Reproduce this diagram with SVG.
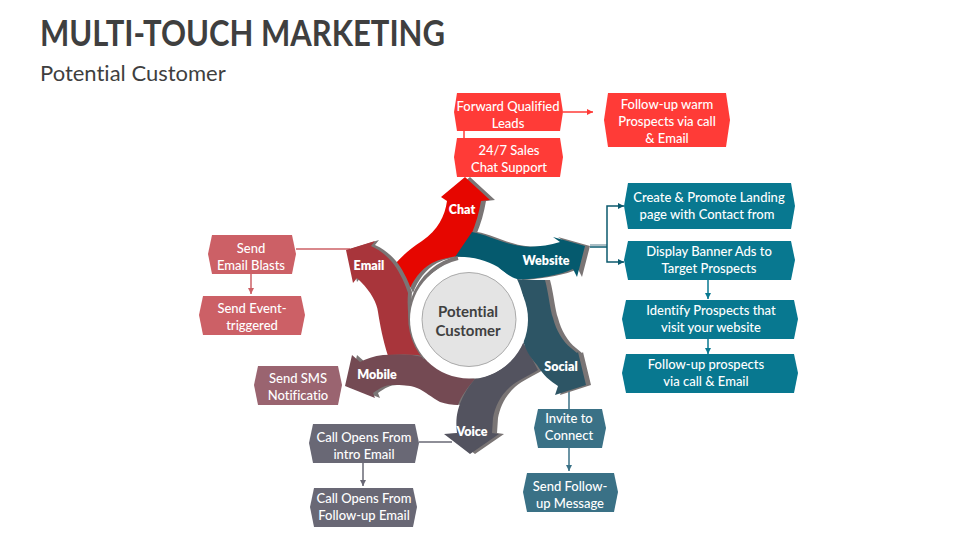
<svg xmlns="http://www.w3.org/2000/svg" xmlns:xlink="http://www.w3.org/1999/xlink" width="960" height="540" viewBox="0 0 960 540">
<style>
text{font-family:"Lato","Open Sans",sans-serif;font-variant-ligatures:none}
.t{font-size:36px;font-weight:700;fill:#3f3f3f}
.s{font-size:22px;fill:#3f3f3f}
.b{font-size:13px;fill:#fff;text-anchor:middle;font-weight:500}
.a{font-size:12.5px;fill:#fff;text-anchor:middle;font-weight:800}
.c{font-size:15px;fill:#404040;text-anchor:middle;font-weight:700}
.sh{fill:#7a7575}
.red{fill:#ff3b37}.teal{fill:#087890}.rose{fill:#cc6066}.mauve{fill:#9a6470}.slate{fill:#696875}.blue{fill:#3a7186}
.l{fill:none;stroke-width:1.5}
</style>
<defs>
<marker id="mr" markerUnits="userSpaceOnUse" markerWidth="7" markerHeight="7" refX="6" refY="3" orient="auto"><path d="M0 0L6 3L0 6z" fill="#ff3b37"/></marker>
<marker id="mt" markerUnits="userSpaceOnUse" markerWidth="7" markerHeight="7" refX="6" refY="3" orient="auto"><path d="M0 0L6 3L0 6z" fill="#087890"/></marker>
<marker id="md" markerUnits="userSpaceOnUse" markerWidth="7" markerHeight="7" refX="6" refY="3" orient="auto"><path d="M0 0L6 3L0 6z" fill="#0b5a6e"/></marker>
<marker id="mo" markerUnits="userSpaceOnUse" markerWidth="7" markerHeight="7" refX="6" refY="3" orient="auto"><path d="M0 0L6 3L0 6z" fill="#cc6066"/></marker>
<marker id="ms" markerUnits="userSpaceOnUse" markerWidth="7" markerHeight="7" refX="6" refY="3" orient="auto"><path d="M0 0L6 3L0 6z" fill="#696875"/></marker>
<marker id="mb" markerUnits="userSpaceOnUse" markerWidth="7" markerHeight="7" refX="6" refY="3" orient="auto"><path d="M0 0L6 3L0 6z" fill="#3a7186"/></marker>
<path id="pEmail" d="M375 241L346 250L353 283L357 278L361 282C371 292 377 303 378 312C380 325 383 340 388 356L424 356C412 340 406 318 408 293C404 280 397 268 392 262C387 256 380 250 371 246z"/>
<path id="pChat" d="M465 177L441 197L447 201C445 216 438 230 422 241C410 249 402 256 395 264L408 293C413 280 420 270 432 263C440 259 450 257 458 256C468 245 477 225 481 201L490 200z"/>
<path id="pWebsite" d="M455 257L472 232C484 234 496 240 507 243C525 249 543 247 560 242L553 237L585 246L577 277L573 269C560 275 535 280 517 279C510 277 504 272 498 267C486 260 470 256 455 257z"/>
<path id="pSocial" d="M517 279C526 280 536 280 545 280C549 295 550 310 553 318C556 330 563 342 571 348L577 353L578 352L586 385L555 395L558 386C550 381 543 375 537 365C530 357 525 349 523 340C528 325 527 300 517 279z"/>
<path id="pVoice" d="M523 342L538 370C528 376 518 380 510 387C500 396 495 407 493 418L492 433L499 434L470 454L444 434L457 433C456 425 456 418 458 410C461 399 467 388 475 379C497 376 514 362 523 342z"/>
<path id="pMobile" d="M423 357C412 354 398 354 383 355C374 356 366 359 360 362L352 355L345 386L375 398L373 393C380 388 385 385 392 385C402 385 410 385 417 388C425 391 432 398 440 402C446 404 452 405 458 405C461 396 468 387 475 379C452 376 434 369 423 357z"/>
</defs>
<rect width="960" height="540" fill="#fff"/>
<text class="t" x="40" y="46" textLength="405" lengthAdjust="spacingAndGlyphs">MULTI-TOUCH MARKETING</text>
<text class="s" x="40" y="81">Potential Customer</text>
<g id="connectors">
<path class="l" stroke="#ff3b37" stroke-width="2" d="M464 131V138"/>
<path class="l" stroke="#ff3b37" marker-end="url(#mr)" d="M563 112H593"/>
<path class="l" stroke="#8fa9b2" d="M590 245H607"/>
<path class="l" stroke="#0b5a6e" d="M590 247H607"/>
<path class="l" stroke="#0b5a6e" marker-end="url(#md)" d="M607 246V206H624"/>
<path class="l" stroke="#0b5a6e" marker-end="url(#md)" d="M607 246V262H624"/>
<path class="l" stroke="#087890" marker-end="url(#mt)" d="M708 280V299"/>
<path class="l" stroke="#087890" marker-end="url(#mt)" d="M708 339V354"/>
<path class="l" stroke="#cc6066" d="M296 249H350"/>
<path class="l" stroke="#cc6066" marker-end="url(#mo)" d="M251 274V294"/>
<path class="l" stroke="#696875" d="M419 442H452"/>
<path class="l" stroke="#696875" marker-end="url(#ms)" d="M363 463V486"/>
<path class="l" stroke="#3a7186" d="M569 390V409"/>
<path class="l" stroke="#3a7186" marker-end="url(#mb)" d="M569 448V471"/>
</g>
<g id="hub">
<use xlink:href="#pChat" class="sh" transform="translate(5 0)"/>
<use xlink:href="#pChat" fill="#e60600"/>
<use xlink:href="#pEmail" class="sh" transform="translate(4 -1)"/>
<use xlink:href="#pEmail" fill="#a8353b"/>
<use xlink:href="#pMobile" class="sh" transform="translate(5 0)"/>
<use xlink:href="#pMobile" fill="#744a53"/>
<use xlink:href="#pVoice" class="sh" transform="translate(5 0)"/>
<use xlink:href="#pVoice" fill="#53535f"/>
<use xlink:href="#pSocial" class="sh" transform="translate(5 0)"/>
<use xlink:href="#pSocial" fill="#2d5565"/>
<use xlink:href="#pWebsite" class="sh" transform="translate(5 0)"/>
<use xlink:href="#pWebsite" fill="#055a6e"/>
<path d="M425 358A61.5 61.5 0 0 1 458 258" fill="none" stroke="#7a7575" stroke-width="4"/>
<circle cx="469" cy="319.5" r="59" fill="#fff"/>
<circle cx="469" cy="319.5" r="47" fill="#e4e4e4" stroke="#aaa" stroke-width="1"/>
<text class="c" x="468" y="317">Potential</text>
<text class="c" x="468" y="336">Customer</text>
</g>
<g id="arrow-chat"><text class="a" x="462" y="214">Chat</text></g>
<g id="arrow-website"><text class="a" x="546" y="265">Website</text></g>
<g id="arrow-email"><text class="a" x="369" y="270">Email</text></g>
<g id="arrow-mobile"><text class="a" x="377" y="379">Mobile</text></g>
<g id="arrow-voice"><text class="a" x="472" y="436">Voice</text></g>
<g id="arrow-social"><text class="a" x="561" y="371">Social</text></g>
<g id="n1"><path class="red" d="M457 93H560L563 112L560 131H457L454 112z"/><text class="b" x="508" y="111">Forward Qualified</text><text class="b" x="508" y="128">Leads</text></g>
<g id="n2"><path class="red" d="M457 138H560L563 157L560 177H457L454 157z"/><text class="b" x="509" y="155">24/7 Sales</text><text class="b" x="509" y="172">Chat Support</text></g>
<g id="n3"><path class="red" d="M608 93H726L730 120L726 147H608L604 120z"/><text class="b" x="667" y="109">Follow-up warm</text><text class="b" x="667" y="126">Prospects via call</text><text class="b" x="667" y="143">&amp; Email</text></g>
<g id="n4"><path class="teal" d="M628 183H791L795 206L791 229H628L624 206z"/><text class="b" x="709" y="202">Create &amp; Promote Landing</text><text class="b" x="707" y="219">page with Contact from</text></g>
<g id="n5"><path class="teal" d="M628 241H791L795 260L791 280H628L624 260z"/><text class="b" x="709" y="256">Display Banner Ads to</text><text class="b" x="709" y="273">Target Prospects</text></g>
<g id="n6"><path class="teal" d="M626 300H794L798 319L794 339H626L622 319z"/><text class="b" x="711" y="315">Identify Prospects that</text><text class="b" x="711" y="332">visit your website</text></g>
<g id="n7"><path class="teal" d="M626 354H794L798 373L794 393H626L622 373z"/><text class="b" x="706" y="369">Follow-up prospects</text><text class="b" x="706" y="386">via call &amp; Email</text></g>
<g id="n8"><path class="rose" d="M212 235H292L296 254L292 274H212L208 254z"/><text class="b" x="251" y="253">Send</text><text class="b" x="251" y="270">Email Blasts</text></g>
<g id="n9"><path class="rose" d="M203 296H301L305 315L301 335H203L199 315z"/><text class="b" x="252" y="313">Send Event-</text><text class="b" x="252" y="330">triggered</text></g>
<g id="n10"><path class="mauve" d="M258 366H338L342 385L338 405H258L254 385z"/><text class="b" x="298" y="383">Send SMS</text><text class="b" x="298" y="400">Notificatio</text></g>
<g id="n11"><path class="slate" d="M313 424H415L419 443L415 463H313L309 443z"/><text class="b" x="364" y="442">Call Opens From</text><text class="b" x="364" y="459">intro Email</text></g>
<g id="n12"><path class="slate" d="M314 488H413L417 507L413 527H314L310 507z"/><text class="b" x="364" y="503">Call Opens From</text><text class="b" x="364" y="520">Follow-up Email</text></g>
<g id="n13"><path class="blue" d="M538 409H602L606 428L602 448H538L534 428z"/><text class="b" x="569" y="423">Invite to</text><text class="b" x="569" y="440">Connect</text></g>
<g id="n14"><path class="blue" d="M527 473H614L618 492L614 512H527L523 492z"/><text class="b" x="570" y="491">Send Follow-</text><text class="b" x="570" y="508">up Message</text></g>
</svg>
